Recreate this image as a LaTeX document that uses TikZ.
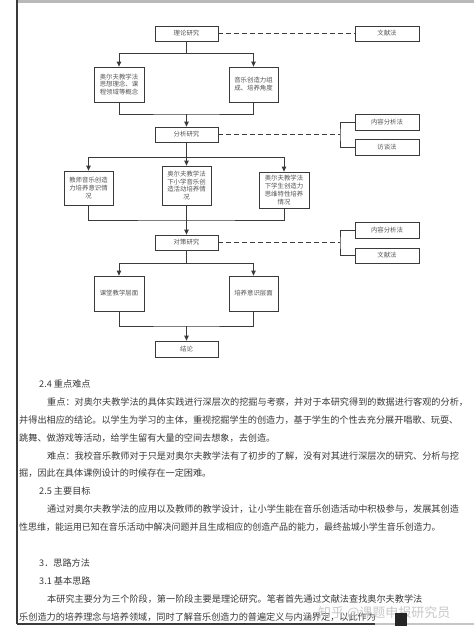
\documentclass[tikz,border=0pt]{standalone}
\usepackage{fontspec}
\newfontfamily\cjk{Noto Sans CJK SC}
\usetikzlibrary{arrows.meta}
\definecolor{linec}{HTML}{3A3A3A}
\definecolor{boxtxt}{HTML}{555555}
\definecolor{bodytxt}{HTML}{3A3A3A}
\tikzset{
 bx/.style={draw=linec, line width=0.8pt, inner sep=0pt, align=center, font=\cjk\fontsize{6.4}{7.9}\selectfont, text=boxtxt, fill=white},
 conn/.style={draw=linec, line width=0.8pt},
 arr/.style={conn, -{Triangle[length=5pt,width=4.5pt]}},
 dsh/.style={conn, dash pattern=on 5pt off 3pt},
 body/.style={anchor=west, inner sep=0pt, font=\cjk\fontsize{9.15}{10}\selectfont, text=bodytxt},
}
\begin{document}
\begin{tikzpicture}[x=1pt,y=-1pt]
\useasboundingbox (0,0) rectangle (474,632);
\fill[white] (0,0) rectangle (474,632);
% page frame
\fill[gray!55] (17,0) rectangle (474,3);
\draw[line width=1.5pt, color=linec] (17,0) -- (17,624);
\draw[line width=1.5pt, color=linec] (17,624) -- (375,624);
\draw[line width=1.5pt, color=gray!45] (375,624) -- (474,624);

% ---- flowchart ----
\node[bx, minimum width=63pt, minimum height=15pt] (A) at (186.5,33.5) {理论研究};
\node[bx, minimum width=64pt, minimum height=15pt] (W1) at (387,33.5) {文献法};
\node[bx, minimum width=50pt, minimum height=35pt] (B1) at (119,84.5) {奥尔夫教学法\\思想理念、课\\程领域等概念};
\node[bx, minimum width=49pt, minimum height=35pt] (B2) at (253.5,84.5) {音乐创造力组\\成、培养角度};
\node[bx, minimum width=63pt, minimum height=15pt] (C) at (186.5,134.5) {分析研究};
\node[bx, minimum width=64pt, minimum height=16pt] (M1) at (387,122) {内容分析法};
\node[bx, minimum width=64pt, minimum height=16pt] (M2) at (387,147) {访谈法};
\node[bx, minimum width=49pt, minimum height=34pt] (D1) at (88.5,188) {教师音乐创造\\力培养意识情\\况};
\node[bx, minimum width=49pt, minimum height=39pt] (D2) at (186.5,185.5) {奥尔夫教学法\\下小学音乐创\\造活动培养情\\况};
\node[bx, minimum width=50pt, minimum height=36pt] (D3) at (284,190) {奥尔夫教学法\\下学生创造力\\思维特性培养\\情况};
\node[bx, minimum width=63pt, minimum height=15pt] (E) at (186.5,242.5) {对策研究};
\node[bx, minimum width=64pt, minimum height=16pt] (N1) at (387,230) {内容分析法};
\node[bx, minimum width=64pt, minimum height=15pt] (N2) at (387,255.5) {文献法};
\node[bx, minimum width=50pt, minimum height=35pt] (F1) at (119,293.5) {课堂教学层面};
\node[bx, minimum width=49pt, minimum height=35pt] (F2) at (253.5,293.5) {培养意识层面};
\node[bx, minimum width=63pt, minimum height=16pt] (G) at (186.5,349) {结论};

% junctions
\coordinate (a1) at (186.5,53);
\coordinate (m1) at (186.5,114);
\coordinate (c1) at (186.5,157);
\coordinate (m2) at (186.5,220);
\coordinate (e1) at (186.5,263);
\coordinate (m3) at (186.5,326);
\coordinate (k1) at (340,134.5);
\coordinate (k2) at (340,242.5);

% stage 1
\draw[dsh] (A.east) -- (W1.west);
\draw[conn] (A.south) -- (a1);
\draw[arr] (a1) -| (B1.north);
\draw[arr] (a1) -| (B2.north);
\draw[conn] (B1.south) |- (m1) -| (B2.south);
\draw[arr] (m1) -- (C.north);

% stage 2
\draw[dsh] (C.east) -- (k1);
\draw[conn] (M1.west) -| (k1) |- (M2.west);
\draw[conn] (C.south) -- (c1);
\draw[arr] (c1) -| (D1.north);
\draw[arr] (c1) -- (D2.north);
\draw[arr] (c1) -| (D3.north);
\draw[conn] (D1.south) |- (m2) -| (D3.south);
\draw[conn] (D2.south) -- (m2);
\draw[arr] (m2) -- (E.north);

% stage 3
\draw[dsh] (E.east) -- (k2);
\draw[conn] (N1.west) -| (k2) |- (N2.west);
\draw[conn] (E.south) -- (e1);
\draw[arr] (e1) -| (F1.north);
\draw[arr] (e1) -| (F2.north);
\draw[conn] (F1.south) |- (m3) -| (F2.south);
\draw[arr] (m3) -- (G.north);

% ---- body text ----
\node[body] (t1) at (39,384) {2.4 重点难点};
\node[body] (t2) at (47,401.9) {重点：对奥尔夫教学法的具体实践进行深层次的挖掘与考察，并对于本研究得到的数据进行客观的分析，};
\node[body] (t3) at (19,419.8) {并得出相应的结论。以学生为学习的主体，重视挖掘学生的创造力，基于学生的个性去充分展开唱歌、玩耍、};
\node[body] (t4) at (19,437.7) {跳舞、做游戏等活动，给学生留有大量的空间去想象，去创造。};
\node[body] (t5) at (47,455.6) {难点：我校音乐教师对于只是对奥尔夫教学法有了初步的了解，没有对其进行深层次的研究、分析与挖};
\node[body] (t6) at (19,473.5) {掘，因此在具体课例设计的时候存在一定困难。};
\node[body] (t7) at (39,491.4) {2.5 主要目标};
\node[body] (t8) at (47,509.3) {通过对奥尔夫教学法的应用以及教师的教学设计，让小学生能在音乐创造活动中积极参与，发展其创造};
\node[body] (t9) at (19,527.2) {\scalebox{0.98}[1]{性思维，能运用已知在音乐活动中解决问题并且生成相应的创造产品的能力，最终盐城小学生音乐创造力。}};
\node[body] (t10) at (39,563) {3．思路方法};
\node[body] (t11) at (39,580.9) {3.1 基本思路};
\node[body] (t12) at (47,598.8) {本研究主要分为三个阶段，第一阶段主要是理论研究。笔者首先通过文献法查找奥尔夫教学法};
\node[body] (t13) at (19,616.7) {乐创造力的培养理念与培养领域，同时了解音乐创造力的普遍定义与内涵界定，以此作为};

% watermark and mark
\node[anchor=west, inner sep=0pt, font=\cjk\fontsize{13}{13}\selectfont, text=gray!50, opacity=0.85] (wm) at (318,613) {知乎 @课题申报研究员};
\fill[black!85] (395,613) rectangle (407,626);
\end{tikzpicture}
\end{document}
